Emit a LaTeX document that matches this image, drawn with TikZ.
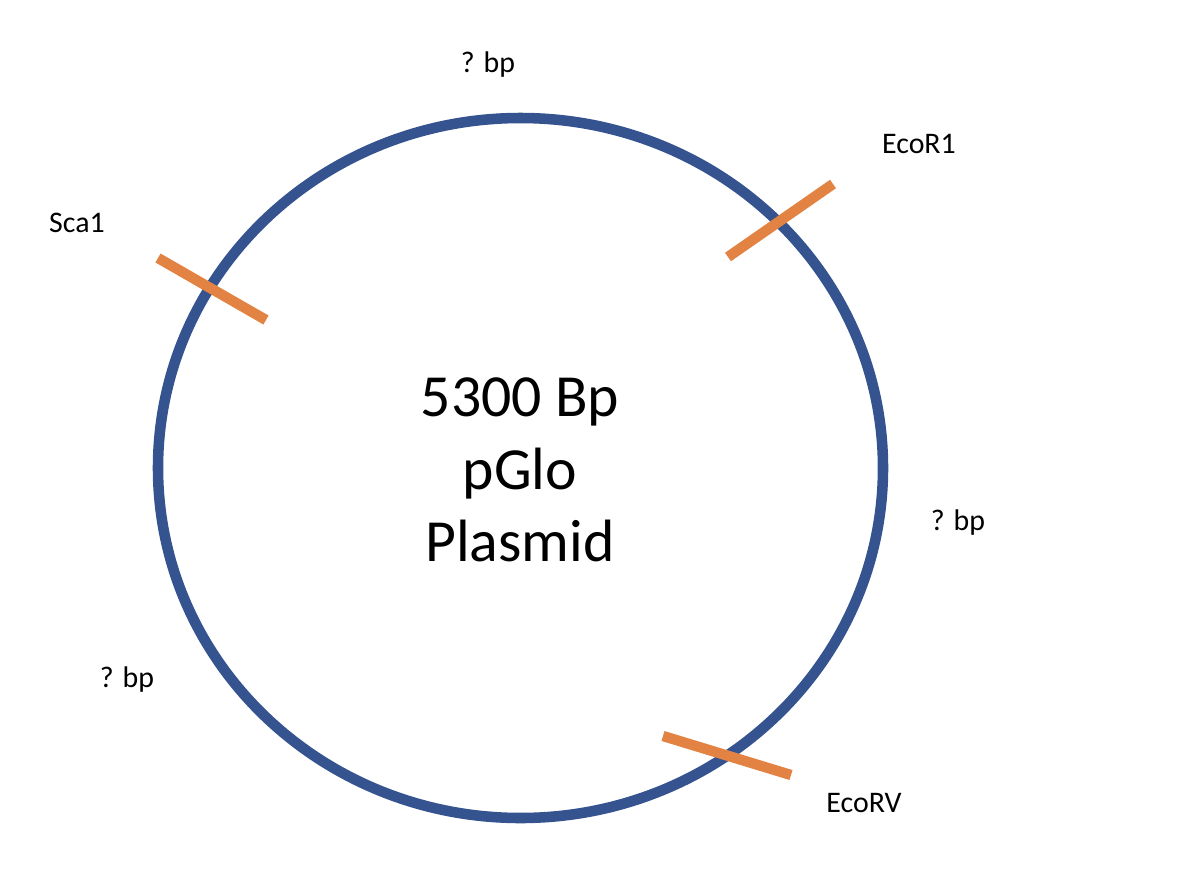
\documentclass[tikz,border=0pt]{standalone}
\usepackage{fontspec}
\setmainfont{Carlito}
\definecolor{ringblue}{HTML}{34538F}
\definecolor{cutorange}{HTML}{E28343}

\begin{document}
\begin{tikzpicture}[x=0.02cm, y=-0.02cm,
		ring/.style = {draw=ringblue, line width=6pt},
		cut/.style = {draw=cutorange, line width=5.9pt},
		site/.style = {anchor=base, font=\fontsize{17}{20}\selectfont}]
		\useasboundingbox (0,0) rectangle (1184,890);

		\draw[ring] (520.5,468) ellipse [x radius=362.5, y radius=350];

		\node[align=center, font=\fontsize{34}{41.4}\selectfont] (name) at (520,470) {5300 Bp\\pGlo\\Plasmid};

		\node[site] (sca) at (77,232) {Sca1};
		\node[site] (ecori) at (919,153) {EcoR1};
		\node[site] (ecorv) at (864,812) {EcoRV};
		\node[site] (bptop) at (488,72) {? bp};
		\node[site] (bpright) at (958,530) {? bp};
		\node[site] (bpleft) at (127,687) {? bp};

		\coordinate (S1) at (158,258);
		\coordinate (S2) at (266,320);
		\coordinate (R1) at (728,257);
		\coordinate (R2) at (833,184);
		\coordinate (V1) at (663,736);
		\coordinate (V2) at (791,775);

		\draw[cut] (S1) -- (S2);
		\draw[cut] (R1) -- (R2);
		\draw[cut] (V1) -- (V2);
	\end{tikzpicture}
\end{document}
